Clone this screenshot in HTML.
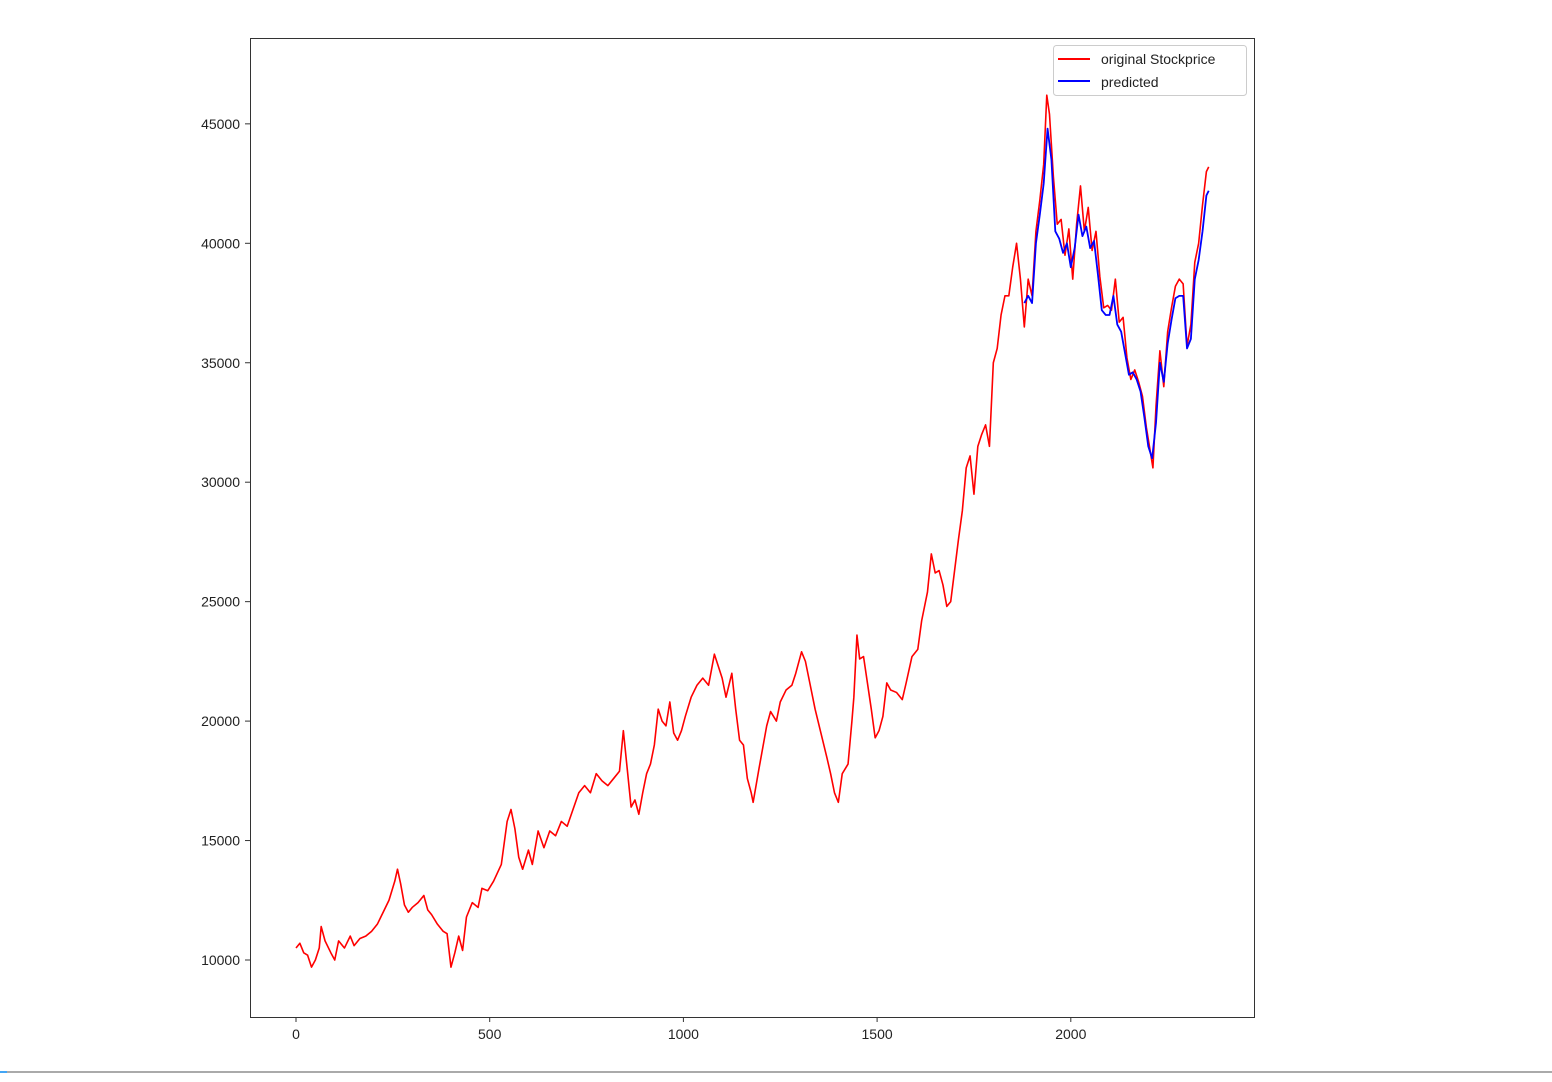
<!DOCTYPE html>
<html><head><meta charset="utf-8"><style>
body{margin:0;background:#fff;width:1552px;height:1077px;overflow:hidden;font-family:"Liberation Sans","DejaVu Sans",sans-serif}
</style></head><body>
<svg id="chart" width="1552" height="1077" xmlns="http://www.w3.org/2000/svg">
<rect x="250.5" y="38.5" width="1004" height="979" fill="#fff" stroke="#333" stroke-width="1"/>
<g id="xticks"></g>
<g id="yticks"></g>
<polyline id="orig" fill="none" stroke="#ff0000" stroke-width="1.6" stroke-linejoin="round"/>
<polyline id="pred" fill="none" stroke="#0000ff" stroke-width="1.8" stroke-linejoin="round"/>
<g>
<rect x="1053.5" y="45.5" width="193" height="50" rx="3" fill="#fff" fill-opacity="0.8" stroke="#ccc"/>
<line x1="1058" y1="59" x2="1090" y2="59" stroke="#ff0000" stroke-width="2"/>
<text x="1101" y="64" font-size="14" fill="#222">original Stockprice</text>
<line x1="1058" y1="81" x2="1090" y2="81" stroke="#0000ff" stroke-width="2"/>
<text x="1101" y="87" font-size="14" fill="#222">predicted</text>
</g>
<rect x="0" y="1071" width="1552" height="2" fill="#aaa"/>
<rect x="0" y="1071" width="7" height="2" fill="#42a5f5"/>
</svg>
<script>
const xTicks=[0,500,1000,1500,2000];
const yTicks=[10000,15000,20000,25000,30000,35000,40000,45000];
const origIdx=[0,10,20,30,40,50,60,65,75,90,100,110,125,140,150,165,180,195,210,225,240,255,262,270,280,290,300,315,330,340,350,365,380,390,400,410,420,430,440,455,470,480,495,510,530,545,555,565,575,585,600,610,625,640,655,670,685,700,715,730,745,760,775,790,805,820,835,845,855,865,875,885,895,905,915,925,935,945,955,965,975,985,995,1005,1020,1035,1050,1065,1080,1090,1100,1110,1125,1135,1145,1155,1165,1175,1180,1195,1205,1215,1225,1240,1250,1265,1280,1290,1305,1315,1325,1340,1355,1370,1380,1390,1400,1410,1425,1435,1440,1448,1455,1465,1475,1485,1495,1505,1515,1525,1535,1550,1565,1575,1590,1605,1615,1630,1640,1650,1660,1670,1680,1690,1700,1710,1720,1730,1740,1750,1760,1770,1780,1790,1800,1810,1820,1830,1840,1850,1860,1870,1880,1890,1900,1910,1920,1930,1938,1945,1955,1965,1975,1985,1995,2005,2015,2025,2035,2045,2055,2065,2075,2085,2095,2105,2115,2125,2135,2145,2155,2165,2175,2185,2195,2205,2212,2220,2230,2240,2250,2260,2270,2280,2290,2300,2310,2320,2330,2340,2350,2356];
const origVal=[10500,10700,10300,10200,9700,10000,10500,11400,10800,10300,10000,10800,10500,11000,10600,10900,11000,11200,11500,12000,12500,13300,13800,13200,12300,12000,12200,12400,12700,12100,11900,11500,11200,11100,9700,10300,11000,10400,11800,12400,12200,13000,12900,13300,14000,15800,16300,15500,14300,13800,14600,14000,15400,14700,15400,15200,15800,15600,16300,17000,17300,17000,17800,17500,17300,17600,17900,19600,18000,16400,16700,16100,17000,17800,18200,19000,20500,20000,19800,20800,19500,19200,19600,20200,21000,21500,21800,21500,22800,22300,21800,21000,22000,20500,19200,19000,17600,17000,16600,18000,18900,19800,20400,20000,20800,21300,21500,22000,22900,22500,21700,20500,19500,18500,17800,17000,16600,17800,18200,20000,21000,23600,22600,22700,21600,20500,19300,19600,20200,21600,21300,21200,20900,21600,22700,23000,24200,25400,27000,26200,26300,25700,24800,25000,26300,27600,28800,30600,31100,29500,31500,32000,32400,31500,35000,35600,37000,37800,37800,39000,40000,38500,36500,38500,37800,40500,41800,43300,46200,45400,42800,40800,41000,39500,40600,38500,40800,42400,40500,41500,39700,40500,38600,37300,37400,37200,38500,36700,36900,35200,34300,34700,34200,33600,32300,31300,30600,33200,35500,34000,36300,37300,38200,38500,38300,35700,36600,39200,40000,41600,43000,43200];
const predIdx=[1880,1890,1900,1910,1920,1930,1940,1950,1960,1970,1980,1990,2000,2010,2020,2030,2040,2050,2060,2070,2080,2090,2100,2110,2120,2130,2140,2150,2160,2170,2180,2190,2200,2210,2220,2230,2240,2250,2260,2270,2280,2290,2300,2310,2320,2330,2340,2350,2356];
const predVal=[37500,37800,37500,40000,41200,42500,44800,43500,40500,40200,39600,40000,39000,39800,41200,40300,40700,39800,40100,38700,37200,37000,37000,37800,36600,36300,35400,34500,34600,34300,33800,32700,31500,31000,32500,35000,34200,35800,36800,37700,37800,37800,35600,36000,38500,39300,40500,42000,42200];
const X=v=>296+v*0.3874;
const Y=v=>960-(v-10000)*0.02389;
const NS='http://www.w3.org/2000/svg';
const xg=document.getElementById('xticks'),yg=document.getElementById('yticks');
xTicks.forEach(t=>{
 const l=document.createElementNS(NS,'line');
 
 
 l.setAttribute('x1',X(t));l.setAttribute('x2',X(t));l.setAttribute('y1',1017);l.setAttribute('y2',1022);l.setAttribute('stroke','#333');xg.appendChild(l);
 const s=document.createElementNS(NS,'text');
 
 
 s.setAttribute('x',X(t));s.setAttribute('y',1039);s.setAttribute('text-anchor','middle');s.setAttribute('font-size','14');s.setAttribute('fill','#222');s.textContent=t;xg.appendChild(s);
});
yTicks.forEach(t=>{
 const l=document.createElementNS(NS,'line');
 
 
 l.setAttribute('x1',245);l.setAttribute('x2',250);l.setAttribute('y1',Y(t));l.setAttribute('y2',Y(t));l.setAttribute('stroke','#333');yg.appendChild(l);
 const s=document.createElementNS(NS,'text');
 
 
 s.setAttribute('x',240);s.setAttribute('y',Y(t)+5);s.setAttribute('text-anchor','end');s.setAttribute('font-size','14');s.setAttribute('fill','#222');s.textContent=t;yg.appendChild(s);
});
document.getElementById('orig').setAttribute('points',origIdx.map((d,i)=>X(d)+','+Y(origVal[i])).join(' '));
document.getElementById('pred').setAttribute('points',predIdx.map((d,i)=>X(d)+','+Y(predVal[i])).join(' '));
</script>
</body></html>
